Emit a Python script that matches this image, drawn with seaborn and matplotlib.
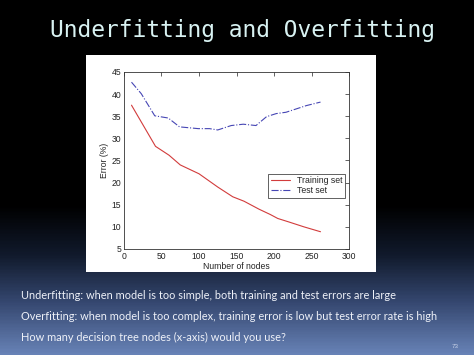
import numpy as np
import pandas as pd
import matplotlib.pyplot as plt
import seaborn as sns
from matplotlib.colors import LinearSegmentedColormap
from matplotlib.patches import Rectangle

# ---------------------------------------------------------
# data
# ---------------------------------------------------------
train_nodes = [10, 42, 60, 75, 100, 125, 145, 160, 180, 195, 205, 220, 240, 262]
train_error = [37.5, 28.2, 26.2, 24.0, 22.0, 19.0, 16.8, 15.8, 14.0, 12.8, 11.9, 11.1, 10.0, 8.9]

test_nodes = [10, 23, 41, 59, 74, 99, 114, 125, 143, 159, 176, 190, 203, 216, 243, 262]
test_error = [42.7, 40.1, 35.1, 34.6, 32.6, 32.2, 32.2, 31.9, 32.9, 33.2, 32.9, 34.9, 35.6, 35.9, 37.4, 38.2]

x_ticks = [0, 50, 100, 150, 200, 250, 300]
y_ticks = [5, 10, 15, 20, 25, 30, 35, 40, 45]

title = "Underfitting and Overfitting"
bullets = [
    "Underfitting: when model is too simple, both training and test errors are large",
    "Overfitting: when model is too complex, training error is low but test error rate is high",
    "How many decision tree nodes (x-axis) would you use?",
]
page_no = "73"

df_train = pd.DataFrame({"nodes": train_nodes, "error": train_error})
df_test = pd.DataFrame({"nodes": test_nodes, "error": test_error})

# ---------------------------------------------------------
# figure + slide background
# ---------------------------------------------------------
sns.set_style("white")
plt.rcParams["font.family"] = ["Liberation Sans", "DejaVu Sans"]

fig = plt.figure(figsize=(4.74, 3.55), dpi=100)

bg = fig.add_axes([0, 0, 1, 1])
bg.set_axis_off()
cmap = LinearSegmentedColormap.from_list(
    "slide", [(0.0, "#000000"), (0.58, "#000000"), (0.72, "#111a2c"),
              (0.85, "#34466e"), (1.0, "#6782b6")])
grad = np.linspace(0, 1, 355).reshape(-1, 1)
bg.imshow(grad, aspect="auto", cmap=cmap, extent=[0, 1, 0, 1], origin="upper")
bg.set_xlim(0, 1)
bg.set_ylim(0, 1)

# white picture panel
bg.add_patch(Rectangle((0.1814, 0.2338), 0.6118, 0.611, facecolor="white",
                       edgecolor="none", transform=bg.transAxes))

fig.text(0.512, 0.915, title, family="DejaVu Sans Mono", fontsize=16.5,
         color="#d8f2f2", ha="center", va="center")

for i, line in enumerate(bullets):
    fig.text(0.044, 0.169 - i * 0.06, line, family=["Lato", "DejaVu Sans"],
             fontsize=7.95, color="#eef1f8", ha="left", va="center")
fig.text(0.96, 0.025, page_no, fontsize=4.5, color="#c8d2e8", ha="center", va="center")

# ---------------------------------------------------------
# chart
# ---------------------------------------------------------
ax = fig.add_axes([0.2616, 0.2986, 0.4747, 0.4986])
sns.lineplot(data=df_train, x="nodes", y="error", ax=ax, color="#d23c3c",
             linewidth=0.8, label="Training set")
sns.lineplot(data=df_test, x="nodes", y="error", ax=ax, color="#4646b4",
             linewidth=0.8, linestyle="-.", label="Test set")

ax.set_xlim(0, 300)
ax.set_ylim(5, 45)
ax.set_xticks(x_ticks)
ax.set_yticks(y_ticks)
ax.tick_params(direction="in", length=3, width=0.5, labelsize=6.2, colors="#222222",
               top=True, right=True, pad=2)
ax.set_xlabel("Number of nodes", fontsize=6.2, labelpad=1, color="#222222")
ax.set_ylabel("Error (%)", fontsize=6.2, labelpad=2, color="#222222")
for s in ax.spines.values():
    s.set_linewidth(0.6)
    s.set_color("#333333")

leg = ax.legend(loc="upper left", bbox_to_anchor=(0.62, 0.45), fontsize=6.3,
                frameon=True, fancybox=False, framealpha=1, edgecolor="#222222",
                borderpad=0.3, handlelength=2.2, labelspacing=0.1)
leg.get_frame().set_linewidth(0.5)

fig.savefig("out.png", dpi=100)
